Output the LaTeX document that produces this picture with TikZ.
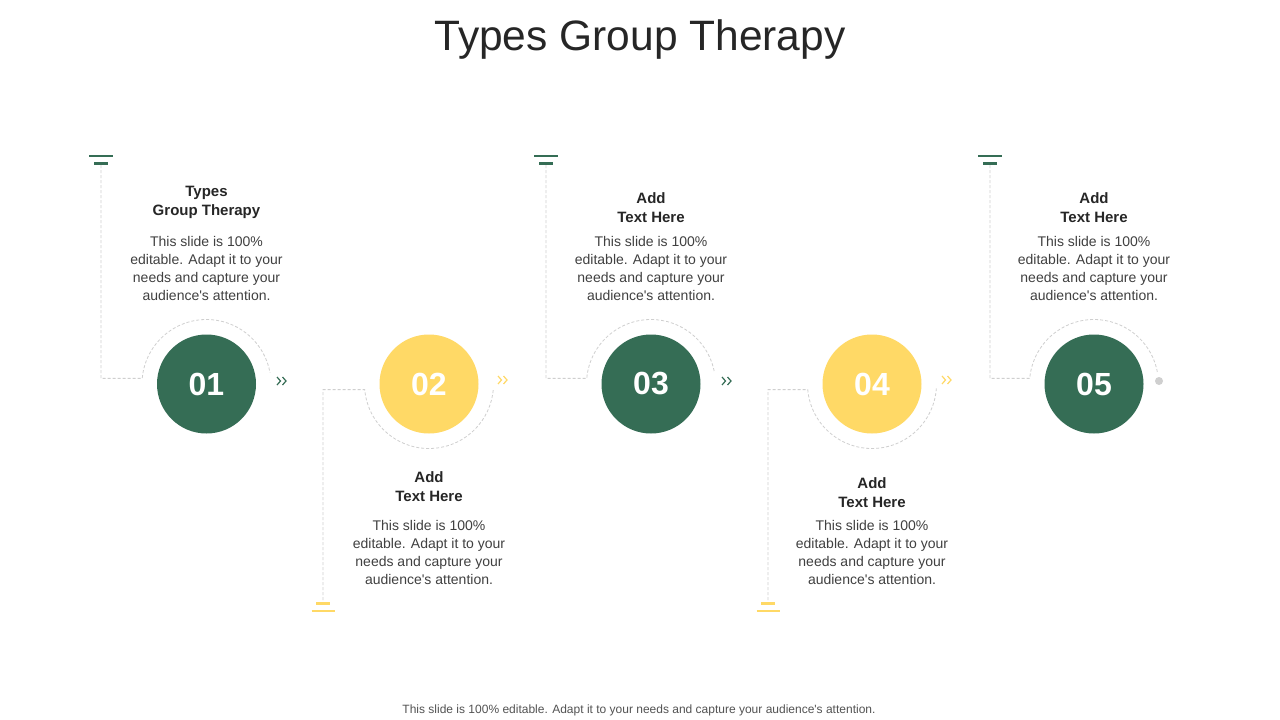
\documentclass[tikz,border=0pt]{standalone}
\usepackage{fontspec}
\setmainfont{Liberation Sans}[Ligatures=TeXOff]
\usetikzlibrary{calc}
\definecolor{grn}{HTML}{356D55}
\definecolor{ylw}{HTML}{FFD966}
\definecolor{dashgray}{HTML}{CFCFCF}
\definecolor{headc}{HTML}{262626}
\definecolor{bodyc}{HTML}{404040}
\begin{document}
\begin{tikzpicture}[x=1pt,y=-1pt]
\tikzset{
  num/.style={circle, minimum size=99pt, inner sep=0pt, text=white, font=\fontsize{32}{32}\selectfont\bfseries},
  dline/.style={draw=dashgray, line width=0.8pt, dash pattern=on 3pt off 2pt},
  head/.style={align=center, font=\fontsize{15}{19}\selectfont\bfseries, text=headc, inner sep=0pt},
  body/.style={align=center, font=\fontsize{14}{18}\selectfont, text=bodyc, inner sep=0pt},
  barline/.style={line width=2.6pt},
  chev/.style={line width=1.2pt}
}
\fill[white] (0,0) rectangle (1280,720);
\useasboundingbox (0,0) rectangle (1280,720);

% title
\node[font=\fontsize{42.5}{48}\selectfont, text=headc] (title) at (640,40) {Types Group Therapy};

% circles
\node[num, fill=grn] (c1) at (206.5,384) {01};
\node[num, fill=ylw] (c2) at (429,384) {02};
\node[num, fill=grn] (c3) at (651,384) {03};
\node[num, fill=ylw] (c4) at (872,384) {04};
\node[num, fill=grn] (c5) at (1094,384) {05};

% top connectors (1,3,5)
\foreach \c/\lx in {c1/101, c3/546, c5/990}{
  \coordinate (\c top) at (\lx,165);
  \coordinate (\c arc) at ($(\c.center)+(185:64.5)$);
  \draw[dline] (\c top) |- (\c arc) arc[start angle=185, end angle=350, radius=64.5];
  \draw[barline, draw=grn] (\lx-12,156) -- (\lx+12,156);
  \draw[barline, draw=grn] (\lx-7,163.5) -- (\lx+7,163.5);
}
% bottom connectors (2,4)
\foreach \c/\lx in {c2/323, c4/768}{
  \coordinate (\c bot) at (\lx,600);
  \coordinate (\c arc) at ($(\c.center)+(175:64.5)$);
  \draw[dline] (\c bot) |- (\c arc) arc[start angle=175, end angle=4, radius=64.5];
  \draw[barline, draw=ylw] (\lx-7,603.5) -- (\lx+7,603.5);
  \draw[barline, draw=ylw] (\lx-11.5,611) -- (\lx+11.5,611);
}

% chevrons
\foreach \x/\y/\col in {282/381/grn, 503/380/ylw, 727/381/grn, 947/380/ylw}{
  \draw[chev, draw=\col] (\x-5,\y-4) -- (\x-1.5,\y) -- (\x-5,\y+4);
  \draw[chev, draw=\col] (\x+0.5,\y-4) -- (\x+4,\y) -- (\x+0.5,\y+4);
}

% end dot
\fill[dashgray] (1159,381) circle (4);

% texts
\node[head] (h1) at (206.5,202.5) {Types\\Group Therapy};
\node[body] (b1) at (206.5,268) {This slide is 100\%\\editable. Adapt it to your\\needs and capture your\\audience's attention.};
\node[head] (h3) at (651,207.5) {Add\\Text Here};
\node[body] (b3) at (651,268) {This slide is 100\%\\editable. Adapt it to your\\needs and capture your\\audience's attention.};
\node[head] (h5) at (1094,207.5) {Add\\Text Here};
\node[body] (b5) at (1094,268) {This slide is 100\%\\editable. Adapt it to your\\needs and capture your\\audience's attention.};
\node[head] (h2) at (429,486.5) {Add\\Text Here};
\node[body] (b2) at (429,552) {This slide is 100\%\\editable. Adapt it to your\\needs and capture your\\audience's attention.};
\node[head] (h4) at (872,492.5) {Add\\Text Here};
\node[body] (b4) at (872,552) {This slide is 100\%\\editable. Adapt it to your\\needs and capture your\\audience's attention.};

% footer
\node[font=\fontsize{12}{14}\selectfont, text=bodyc!90] (foot) at (639,710) {This slide is 100\% editable. Adapt it to your needs and capture your audience's attention.};
\end{tikzpicture}
\end{document}
